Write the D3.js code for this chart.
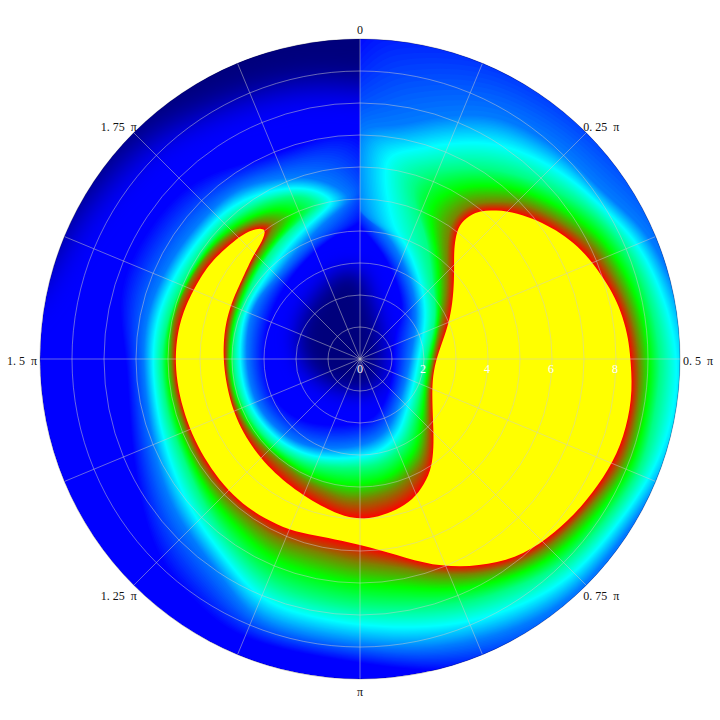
<!DOCTYPE html>
<html>
<head>
<meta charset="utf-8">
<style>
html, body { margin: 0; padding: 0; background: #fff; }
text { font-family: "Liberation Serif", "DejaVu Serif", serif; white-space: pre; }
</style>
<script src="https://cdn.jsdelivr.net/npm/d3@7"></script>
</head>
<body>
<div id="chart"></div>
<script>
// axis values
const radiusTicks = [1, 2, 3, 4, 5, 6, 7, 8, 9];
const radiusLabels = [0, 2, 4, 6, 8];
const spokes = [0, 0.125, 0.25, 0.375, 0.5, 0.625, 0.75, 0.875, 1, 1.125, 1.25, 1.375, 1.5, 1.625, 1.75, 1.875];
const angleTicks = [0, 0.25, 0.5, 0.75, 1, 1.25, 1.5, 1.75];
const angleLabels = ["0", "0. 25  π", "0. 5  π", "0. 75  π", "π", "1. 25  π", "1. 5  π", "1. 75  π"];

// level lines, [x, y] in radius units from the centre
const navyOuter = [[0,8.5],[-1.56,8.56],[-3.03,8.31],[-5,7.63],[-6.66,6.75],[-8.13,5.28],[-9.06,4.03],[-10,2.47],[-10.94,1.53],[-12.19,4.97],[-8.13,12.16],[0,12.16],[2.19,12.16],[2.19,8.5]];
const navyCentre = [[0,2.72],[.25,2.16],[.56,1.22],[.72,.13],[.56,-.81],[.06,-1.03],[-.78,-.91],[-1.56,-.41],[-1.94,.44],[-1.78,1.38],[-1.25,2.16],[-.63,2.72]];

const blueOuter = [[-1.97,6.63],[-3.66,6.13],[-5.63,5.59],[-7.41,3],[-7.59,1.44],[-7.29,0],[-7.2,-2.5],[-6.9,-4.5],[-6.34,-6.38],[-5.2,-7.6],[-3.84,-8.88],[0,-9.56],[4.06,-10.03],[8.2,-8.4],[10.8,-4],[11.5,0],[10.8,5.5],[8,8.2],[4,10.8]];
const blueInner = [[.38,3.72],[.94,2.94],[1.41,1.63],[1.09,.91],[1.03,0],[1.03,-.66],[.63,-1.69],[0,-2.06],[-1.47,-2.06],[-2.28,-1.69],[-2.81,-1.06],[-3.03,-.03],[-2.88,1.22],[-2.41,2.16],[-1.88,2.88],[-1.25,3.5],[-.63,3.94]];
const blueTipLeft = [[.8,6],[0,7.47]];
const blueFoldLeft = [[1.5,8],[1.5,5.5],[1.3,3.5]];
const blueCloseLeft = [[0,4.19],[.6,4.8]];
const blueTipRight = [[-.6,6.2],[-1,7]];
const blueFoldRight = [[1,11],[0,10.8],[-1.2,8],[-1.2,5.5],[0,4.1]];

const azureOuter = [[-.41,5.19],[-1.09,5.59],[-2,5.72],[-3.19,5.56],[-4.09,5.19],[-4.94,4.38],[-5.72,3.41],[-6.25,2.47],[-6.66,1.44],[-6.81,.19],[-6.63,-1.91],[-6.16,-4.09],[-5.41,-5.44],[-4.25,-6.9],[-3.38,-8.16],[-1.88,-8.63],[0,-8.94],[1.78,-9.09],[3.69,-8.84],[5.63,-8.16],[7.06,-7.09],[8.28,-5.5],[9.44,-3.88],[10.47,-1.91],[10.47,.59],[9.84,2.31],[9.1,3.77],[8.44,4.5],[7.41,5.38],[6.41,6.47],[5,7.31],[3.84,7.69],[2.19,7.53],[1.03,7.22]];
const azureFoldLeft = [[.5,6.5],[.5,5]];
const azureFoldRight = [[0,7.31],[-.2,6.5],[-.2,5.5],[0,4.44]];
const azureInner = [[.72,4.13],[1.34,3.09],[1.88,1.63],[1.56,-.03],[1.44,-.66],[1.13,-1.69],[.78,-2.38],[0,-2.75],[-1.16,-2.84],[-2.09,-2.59],[-2.81,-2],[-3.34,-1.28],[-3.59,-.03],[-3.5,1.22],[-3.13,2],[-2.59,2.56],[-2.03,3.31],[-1.34,4.03],[-.72,4.6],[-.31,4.95]];

const springLine = [[-1.47,4.94],[-1.97,5.13],[-2.88,4.97],[-3.69,4.59],[-4.41,4.06],[-5.09,3.16],[-5.66,2.13],[-6.03,1.22],[-6.22,.09],[-6.16,-.81],[-6,-1.81],[-5.63,-2.84],[-5.22,-3.84],[-4.75,-4.78],[-3.91,-5.94],[-2.91,-6.97],[-1.56,-7.47],[0,-7.75],[1.56,-7.78],[3.22,-7.69],[4.84,-7.16],[6.41,-6.44],[7.66,-5.09],[8.75,-3.59],[9.13,-2.22],[9.38,-.66],[9.38,.28],[9.06,2],[8.34,3.47],[7.19,4.72],[5.53,5.59],[4.16,5.97],[3.13,5.97],[2.19,5.84],[1.72,5.59],[1.63,5.13],[1.88,4.34],[2.06,3.81],[2.19,3.09],[2.28,2.31],[2.38,1.63],[2.31,.91],[2.09,.13],[1.97,-.66],[1.72,-1.69],[1.5,-2.53],[1.09,-3],[.6,-3.31],[0,-3.41],[-.78,-3.41],[-1.66,-3.31],[-2.72,-2.75],[-3.44,-1.91],[-3.84,-1.06],[-4,-.03],[-3.88,1.22],[-3.53,2.06],[-3.13,2.88],[-2.59,3.63],[-2.09,4.13],[-1.66,4.5],[-1.38,4.78]];
const oliveLine = [[-2.66,4.28],[-3.19,4.31],[-3.75,4.06],[-4.31,3.69],[-4.84,3.16],[-5.28,2.5],[-5.66,1.75],[-5.88,.97],[-5.88,-.03],[-5.84,-.81],[-5.63,-1.66],[-5.34,-2.53],[-4.94,-3.41],[-4.31,-4.25],[-3.56,-4.91],[-2.75,-5.59],[-2.03,-5.84],[-1.16,-6.09],[-.47,-6.28],[0,-6.38],[.72,-6.47],[1.5,-6.56],[2.25,-6.72],[3.22,-6.75],[4.06,-6.66],[4.97,-6.41],[5.88,-5.91],[6.59,-5.28],[7.34,-4.47],[8.19,-3.38],[8.5,-2.41],[8.69,-1.44],[8.75,-.66],[8.72,.19],[8.59,1],[8.28,2],[7.59,3.19],[7.19,3.63],[6.31,4.28],[5.47,4.72],[4.84,4.91],[4.16,4.91],[3.53,4.88],[3.06,4.59],[2.78,4.13],[2.72,3.5],[2.72,2.97],[2.72,2.34],[2.66,1.66],[2.5,.91],[2.31,.06],[2.19,-.66],[2.13,-1.06],[2.13,-1.69],[2.09,-2.53],[1.97,-3.16],[1.66,-3.56],[1.25,-4],[.72,-4.25],[0,-4.41],[-.53,-4.38],[-1.03,-4.16],[-1.72,-3.84],[-2.28,-3.38],[-2.91,-2.91],[-3.53,-2.22],[-3.88,-1.53],[-4.09,-.84],[-4.19,-.03],[-4.09,1.22],[-3.66,2.38],[-3.22,3.19],[-2.91,3.72],[-2.72,4.09]];
const yellowLine = [[-2.97,4.06],[-3.22,4.09],[-3.66,3.91],[-4.16,3.5],[-4.69,3],[-5.09,2.38],[-5.47,1.63],[-5.69,.91],[-5.78,.09],[-5.72,-.75],[-5.53,-1.59],[-5.22,-2.44],[-4.78,-3.25],[-4.16,-4.09],[-3.44,-4.72],[-2.59,-5.19],[-1.97,-5.41],[-1.16,-5.56],[-.53,-5.69],[0,-5.81],[.72,-6],[1.56,-6.25],[2.28,-6.44],[3.22,-6.5],[4.06,-6.41],[4.91,-6.19],[5.72,-5.72],[6.47,-5.09],[7.19,-4.31],[7.91,-3.25],[8.28,-2.31],[8.47,-1.38],[8.5,-.66],[8.44,.19],[8.34,.91],[8.03,1.84],[7.59,2.56],[6.97,3.41],[6.16,4.03],[5.31,4.44],[4.59,4.63],[4.06,4.66],[3.59,4.59],[3.22,4.34],[3.03,4.03],[2.94,3.5],[2.94,3],[2.94,2.38],[2.88,1.63],[2.72,.91],[2.44,.19],[2.28,-.44],[2.25,-1.06],[2.28,-1.91],[2.31,-2.63],[2.25,-3.38],[2.03,-3.88],[1.66,-4.41],[1.03,-4.78],[.41,-4.97],[0,-5],[-.53,-4.91],[-1.16,-4.63],[-1.88,-4.19],[-2.5,-3.72],[-3.13,-3.09],[-3.66,-2.31],[-3.97,-1.59],[-4.16,-.88],[-4.28,-.03],[-4.25,.91],[-4.03,1.75],[-3.69,2.47],[-3.34,3.25],[-3.06,3.66],[-2.97,3.94]];

// colour position of each level line
const levelBlue = 3, levelAzure = 2.5, levelSpring = 1.5, levelOlive = 0.5, levelRed = 0;

const size = 720;
const cx = 360, cy = 359, R = 320;
const bandStep = 0.025;

const svg = d3.select("#chart").append("svg")
    .attr("width", size)
    .attr("height", size)
    .style("display", "block");

const x = d3.scaleLinear().domain([-10, 10]).range([cx - R, cx + R]);
const y = d3.scaleLinear().domain([-10, 10]).range([cy + R, cy - R]);
const r = d3.scaleLinear().domain([0, 10]).range([0, R]);
const angle = d3.scaleLinear().domain([0, 2]).range([0, 2 * Math.PI]);
const color = d3.scaleLinear()
    .domain([0, 1, 2, 3])
    .range(["#ff0000", "#00ff00", "#00ffff", "#0000ff"]);

const outline = d3.line().x(d => x(d[0])).y(d => y(d[1]));
const closedPath = pts => outline(pts) + "Z";
const roundPath = d3.line().x(d => x(d[0])).y(d => y(d[1])).curve(d3.curveCatmullRomClosed);

// every level line passes the same landmarks in the same order,
// so each stretch between two landmarks is resampled on its own
const landmarks = [
    p => p[1] < 0.2,
    p => p[0] >= 0,
    p => p[1] >= 0,
    p => p[0] <= 3.6,
    p => p[1] < 0.2,
    p => p[0] <= 0,
    p => p[1] >= -0.05
];
const perVertex = 6, perStretch = 44;

function resample(points) {
    const n = points.length;
    const fx = d3.interpolateBasisClosed(points.map(p => p[0]));
    const fy = d3.interpolateBasisClosed(points.map(p => p[1]));
    const marks = [0];
    landmarks.forEach(test => {
        let i = marks[marks.length - 1] + 1;
        while (i < n - 1 && !test(points[i])) i++;
        marks.push(i);
    });
    marks.push(n);
    const out = [];
    d3.pairs(marks).forEach(([a, b]) => {
        const dense = d3.range(a * perVertex, b * perVertex + 1)
            .map(k => [fx(k / (n * perVertex)), fy(k / (n * perVertex))]);
        const lengths = [0];
        d3.pairs(dense).forEach(([p, q]) => {
            lengths.push(lengths[lengths.length - 1] + Math.hypot(q[0] - p[0], q[1] - p[1]));
        });
        const total = lengths[lengths.length - 1];
        d3.range(perStretch).forEach(j => {
            const s = total * j / perStretch;
            const i = Math.min(d3.bisectRight(lengths, s) - 1, dense.length - 2);
            const f = (s - lengths[i]) / (lengths[i + 1] - lengths[i] || 1);
            out.push([
                dense[i][0] + (dense[i + 1][0] - dense[i][0]) * f,
                dense[i][1] + (dense[i + 1][1] - dense[i][1]) * f
            ]);
        });
    });
    return out;
}

const defs = svg.append("defs");

defs.append("clipPath").attr("id", "disc")
    .append("circle").attr("cx", cx).attr("cy", cy).attr("r", R);
defs.append("clipPath").attr("id", "left")
    .append("rect").attr("x", 0).attr("y", 0).attr("width", x(0)).attr("height", size);
defs.append("clipPath").attr("id", "right")
    .append("rect").attr("x", x(0)).attr("y", 0).attr("width", size - x(0)).attr("height", size);

function blur(id, sigma) {
    defs.append("filter").attr("id", id)
        .attr("filterUnits", "userSpaceOnUse")
        .attr("x", -200).attr("y", -200).attr("width", 1120).attr("height", 1120)
        .attr("color-interpolation-filters", "sRGB")
        .append("feGaussianBlur").attr("stdDeviation", sigma);
    return `url(#${id})`;
}

const field = svg.append("g").attr("clip-path", "url(#disc)");

field.append("circle")
    .attr("cx", cx).attr("cy", cy).attr("r", R)
    .attr("fill", "#0000ff");

field.append("g").attr("clip-path", "url(#left)")
    .append("path")
    .attr("d", roundPath(navyOuter))
    .attr("fill", "#00007c")
    .attr("filter", blur("navyOuterBlur", 16));

field.append("path")
    .attr("d", roundPath(navyCentre))
    .attr("fill", "#00007c")
    .attr("filter", blur("navyCentreBlur", 10));

const yellowPts = resample(yellowLine);
const olivePts = resample(oliveLine);
const springPts = resample(springLine);
const soften = blur("bandBlur", 0.7);

// seam at angle 0: the two sides of it do not join above the centre
const views = [
    {
        clip: "left",
        blue: resample([...blueTipLeft, ...blueOuter, ...blueFoldLeft, ...blueInner, ...blueCloseLeft]),
        azure: resample([...azureOuter, ...azureFoldLeft, ...azureInner])
    },
    {
        clip: "right",
        blue: resample([...blueTipRight, ...blueOuter, ...blueFoldRight, ...blueInner]),
        azure: resample([...azureOuter, ...azureFoldRight, ...azureInner])
    }
];

views.forEach(view => {
    const stack = [
        [view.blue, levelBlue],
        [view.azure, levelAzure],
        [springPts, levelSpring],
        [olivePts, levelOlive],
        [yellowPts, levelRed]
    ];
    const g = field.append("g").attr("clip-path", `url(#${view.clip})`)
        .append("g").attr("filter", soften);
    d3.pairs(stack).forEach(([[a, va], [b, vb]]) => {
        const count = Math.round((va - vb) / bandStep);
        d3.range(count).forEach(k => {
            const t = k / count;
            g.append("path")
                .attr("d", closedPath(a.map((p, i) => [
                    p[0] + (b[i][0] - p[0]) * t,
                    p[1] + (b[i][1] - p[1]) * t
                ])))
                .attr("fill", color(va + (vb - va) * t));
        });
    });
});

// clipped top of the colour range
field.append("path")
    .attr("d", closedPath(yellowPts))
    .attr("fill", "#ffff00")
    .attr("stroke", "#ff0000")
    .attr("stroke-width", 0.8)
    .attr("paint-order", "stroke");

// grid
const grid = svg.append("g")
    .attr("fill", "none")
    .attr("stroke", "#cccccc")
    .attr("stroke-opacity", 0.5)
    .attr("stroke-width", 1);

grid.selectAll("circle")
    .data(radiusTicks)
    .join("circle")
    .attr("cx", cx)
    .attr("cy", cy)
    .attr("r", d => r(d));

grid.selectAll("line")
    .data(spokes)
    .join("line")
    .attr("x1", cx)
    .attr("y1", cy)
    .attr("x2", d => cx + R * Math.sin(angle(d)))
    .attr("y2", d => cy - R * Math.cos(angle(d)));

svg.append("circle")
    .attr("cx", cx).attr("cy", cy).attr("r", R)
    .attr("fill", "none")
    .attr("stroke", "#000")
    .attr("stroke-opacity", 0.4)
    .attr("stroke-width", 0.6);

// labels
svg.append("g").selectAll("text")
    .data(radiusLabels)
    .join("text")
    .attr("x", d => r(d) + cx - (d ? 1 : 0))
    .attr("y", cy + 14)
    .attr("text-anchor", "middle")
    .attr("font-size", 12)
    .attr("fill", "#ffffff")
    .text(d => d);

svg.append("g").selectAll("text")
    .data(angleTicks)
    .join("text")
    .attr("x", d => {
        const s = Math.sin(angle(d));
        const pad = Math.abs(Math.abs(s) - 1) < 0.01 ? 3 : -3;
        return cx + R * s + (s > 0.1 ? pad : s < -0.1 ? -pad : 0);
    })
    .attr("y", d => {
        const c = Math.cos(angle(d));
        const base = cy - R * c;
        if (c > 0.9) return base - 5;
        if (c < -0.9) return base + 17;
        if (c > 0.5) return base - 2;
        if (c < -0.5) return base + 15;
        return base + 6;
    })
    .attr("text-anchor", d => {
        const s = Math.sin(angle(d));
        if (Math.abs(s) < 0.1) return "middle";
        return s > 0 ? "start" : "end";
    })
    .attr("font-size", 12)
    .attr("fill", "#111")
    .text((d, i) => angleLabels[i]);
</script>
</body>
</html>
